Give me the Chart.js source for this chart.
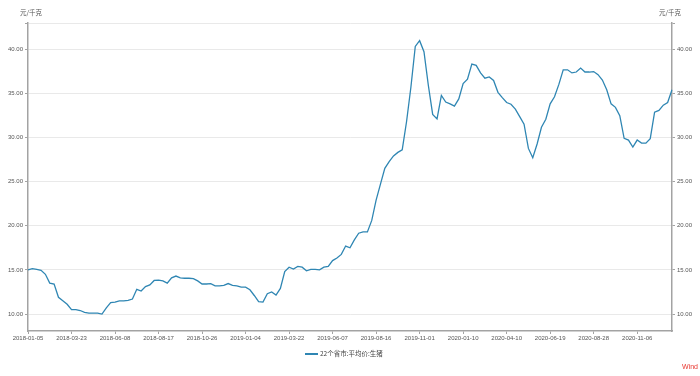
<!DOCTYPE html>
<html>
<head>
<meta charset="utf-8">
<script src="https://cdn.jsdelivr.net/npm/chart.js@4.4.1/dist/chart.umd.min.js"></script>
<style>
  html, body { margin: 0; padding: 0; background: #fff; }
  #wrap { width: 700px; height: 376px; position: relative; }
</style>
</head>
<body>
<div id="wrap"><canvas id="priceChart"></canvas></div>
<script>
// 坐标轴上显示的日期(每10个点一个)
const tickDates = ['2018-01-05', '2018-03-23', '2018-06-08', '2018-08-17', '2018-10-26',
    '2019-01-04', '2019-03-22', '2019-06-07', '2019-08-16', '2019-11-01',
    '2020-01-10', '2020-04-10', '2020-06-19', '2020-08-28', '2020-11-06'];

// 22个省市:平均价:生猪 (元/千克), 周度
const hogPrice = [
    15.0, 15.15, 15.05, 14.95, 14.5, 13.5, 13.4, 11.9, 11.5, 11.1,
    10.5, 10.5, 10.4, 10.2, 10.1, 10.1, 10.1, 10.0, 10.7, 11.3,
    11.35, 11.5, 11.5, 11.55, 11.7, 12.8, 12.6, 13.1, 13.3, 13.8,
    13.85, 13.75, 13.5, 14.1, 14.3, 14.1, 14.05, 14.05, 14.0, 13.75,
    13.4, 13.4, 13.45, 13.2, 13.2, 13.25, 13.45, 13.25, 13.2, 13.05,
    13.05, 12.75, 12.1, 11.4, 11.35, 12.3, 12.5, 12.15, 12.9, 14.8,
    15.3, 15.1, 15.4, 15.3, 14.9, 15.05, 15.05, 15.0, 15.3, 15.4,
    16.05, 16.35, 16.75, 17.7, 17.5, 18.4, 19.15, 19.3, 19.3, 20.6,
    22.9, 24.7, 26.5, 27.25, 27.9, 28.3, 28.6, 31.8, 35.7, 40.3,
    40.95, 39.7, 35.9, 32.6, 32.1, 34.75, 34.0, 33.8, 33.55, 34.35,
    36.1, 36.6, 38.3, 38.15, 37.3, 36.7, 36.85, 36.45, 35.1, 34.5,
    33.95, 33.75, 33.2, 32.35, 31.5, 28.75, 27.7, 29.25, 31.15, 32.05,
    33.8, 34.6, 36.0, 37.65, 37.65, 37.3, 37.4, 37.85, 37.4, 37.4,
    37.45, 37.1, 36.5, 35.4, 33.8, 33.4, 32.45, 29.9, 29.7, 28.9,
    29.7, 29.35, 29.35, 29.85, 32.85, 33.05, 33.65, 33.95, 35.4
];

const yTicks = [10, 15, 20, 25, 30, 35, 40];
const yMin = 8.08, yMax = 42.95;
const seriesName = '22个省市:平均价:生猪';
const unitText = '元/千克';

// 由刻度日期补出每周的类目标签
function addDays(s, n) {
    var d = new Date(s + 'T00:00:00Z');
    d.setUTCDate(d.getUTCDate() + n);
    return d.toISOString().slice(0, 10);
}
const labels = [];
tickDates.forEach(function(t, k) {
    var count = k < tickDates.length - 1 ? 10 : hogPrice.length - labels.length;
    for (var j = 0; j < count; j++) labels.push(addDays(t, 7 * j));
});

const LINE = '#2f86b3';
const AXIS = '#a3a3a3';
const GRID = '#e9e9e9';
const TXT = '#555';
const FONT = '"Liberation Sans", "Noto Sans CJK SC", sans-serif';

const extras = {
    id: 'extras',
    afterDraw: function(chart) {
        const ctx = chart.ctx;
        ctx.save();
        ctx.font = '6.5px "Noto Sans CJK SC", sans-serif';
        ctx.fillStyle = TXT;
        ctx.textBaseline = 'middle';
        ctx.textAlign = 'left';
        ctx.fillText(unitText, 20, 13);
        ctx.textAlign = 'right';
        ctx.fillText(unitText, 681, 13);

        // 图例
        ctx.strokeStyle = LINE;
        ctx.lineWidth = 2;
        ctx.beginPath();
        ctx.moveTo(305, 354);
        ctx.lineTo(318, 354);
        ctx.stroke();
        ctx.textAlign = 'left';
        ctx.fillStyle = '#444';
        ctx.fillText(seriesName, 320, 354);

        ctx.font = '7px "Liberation Sans", sans-serif';
        ctx.fillStyle = '#e8362f';
        ctx.textAlign = 'right';
        ctx.fillText('Wind', 698, 367);
        ctx.restore();
    }
};

function yAxis(pos) {
    return {
        type: 'linear',
        position: pos,
        min: yMin,
        max: yMax,
        afterBuildTicks: function(axis) {
            axis.ticks = yTicks.map(function(v) { return { value: v }; }).concat([{ value: yMax }]);
        },
        afterFit: function(axis) { axis.width = 28; },
        ticks: {
            font: { family: FONT, size: 6 },
            color: TXT,
            padding: 2,
            callback: function(v) { return v === yMax ? '' : v.toFixed(2); }
        },
        grid: {
            display: true,
            drawOnChartArea: pos === 'left',
            color: GRID,
            tickColor: AXIS,
            tickLength: 3
        },
        border: { display: true, color: AXIS, width: 1.5 }
    };
}

new Chart(document.getElementById('priceChart'), {
    type: 'line',
    data: {
        labels: labels,
        datasets: [{
            label: seriesName,
            data: hogPrice,
            borderColor: LINE,
            backgroundColor: LINE,
            borderWidth: 1.3,
            pointRadius: 0,
            tension: 0,
            yAxisID: 'y'
        }, {
            label: '',
            data: [],
            yAxisID: 'y2'
        }]
    },
    options: {
        responsive: true,
        maintainAspectRatio: false,
        animation: false,
        layout: { padding: { top: 23, bottom: 0, left: 0, right: 0 } },
        plugins: {
            legend: { display: false },
            tooltip: { enabled: false }
        },
        scales: {
            x: {
                type: 'category',
                offset: false,
                afterBuildTicks: function(axis) {
                    axis.ticks = axis.ticks.filter(function(t, i) { return i % 10 === 0; });
                },
                afterFit: function(axis) { axis.height = 45; },
                ticks: {
                    autoSkip: false,
                    maxRotation: 0,
                    font: { family: FONT, size: 6 },
                    color: TXT,
                    padding: 1
                },
                grid: { drawOnChartArea: false, tickColor: AXIS, tickLength: 3 },
                border: { display: true, color: AXIS, width: 1.5 }
            },
            y: yAxis('left'),
            y2: yAxis('right')
        }
    },
    plugins: [extras]
});
</script>
</body>
</html>
